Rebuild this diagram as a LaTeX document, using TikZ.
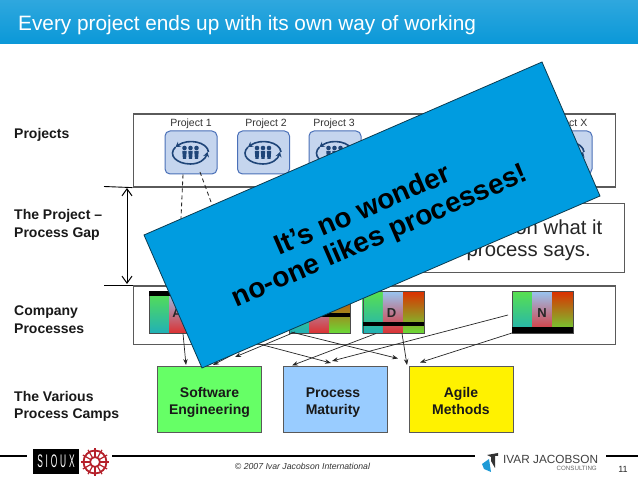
\documentclass[tikz,border=0pt]{standalone}
\usepackage{fontspec}
\setmainfont{Liberation Sans}
\usetikzlibrary{arrows.meta,calc}
\definecolor{ttl}{HTML}{0A98D8}
\definecolor{ban}{HTML}{009CE0}
\definecolor{banl}{HTML}{0B3B50}
\definecolor{frm}{HTML}{5A5A5A}
\definecolor{icf}{HTML}{C5D5EE}
\definecolor{icd}{HTML}{4A70B8}
\definecolor{icn}{HTML}{1F4578}
\definecolor{sxr}{HTML}{B5202A}
\definecolor{ijb}{HTML}{1E9AD6}
\definecolor{sgt}{HTML}{58E050}\definecolor{sgb}{HTML}{20B0B8}
\definecolor{sbt}{HTML}{98C4F0}\definecolor{sbb}{HTML}{DC3030}
\definecolor{srt}{HTML}{DC3000}\definecolor{srb}{HTML}{68DC38}
\definecolor{cgr}{RGB}{102,255,102}
\definecolor{cbl}{RGB}{153,204,255}
\tikzset{
 side/.style={font=\bfseries\fontsize{14}{17.5}\selectfont,anchor=west,align=left,text=black!90,inner sep=0},
 frame/.style={draw=frm,line width=1.1pt,fill=white},
 plabel/.style={font=\fontsize{10.5}{12}\selectfont,text=black!80,inner sep=0},
 proj/.style={draw=icd,line width=1pt,fill=icf,rounded corners=5pt,minimum width=52pt,minimum height=43pt,inner sep=0},
 camp/.style={draw=black!65,line width=.9pt,minimum width=104pt,minimum height=66pt,inner sep=0},
 camptxt/.style={align=center,inner sep=0,font=\bfseries\fontsize{14}{17}\selectfont,text=black!90},
 flow/.style={line width=.7pt,draw=black!85,-{Stealth[length=6pt,width=4.5pt]}},
 dashl/.style={line width=.85pt,draw=black!85,dash pattern=on 4pt off 3pt},
 rulel/.style={line width=.9pt,draw=black},
 gap/.style={line width=1pt,draw=black,{Straight Barb[length=7pt,width=10pt]}-{Straight Barb[length=7pt,width=10pt]}},
 boxl/.style={font=\bfseries\fontsize{13}{15}\selectfont,text=black!85,inner sep=0},
 gaptxt/.style={anchor=east,font=\fontsize{20.3}{24}\selectfont,text=black!85,inner sep=0},
 bantxt/.style={rotate=23.5,font=\bfseries\fontsize{28}{32}\selectfont,text=black,inner sep=0},
 ring/.style={icn,line width=1.6pt},
}
\newcommand{\stripes}[3]{%
 \path[top color=sgt,bottom color=sgb] (#1,#2) rectangle +(20.3,42);
 \path[top color=sbt,bottom color=sbb] (#1+20.3,#2) rectangle +(20.4,42);
 \path[top color=srt,bottom color=srb] (#1+40.7,#2) rectangle +(20.3,42);
 \node[draw=black!70,line width=.8pt,minimum width=61pt,minimum height=42pt,inner sep=0,anchor=north west] (#3) at (#1,#2) {};
}
\newcommand{\teamicon}[1]{%
 \begin{scope}[shift={(#1)}]
 \draw[ring,-{Stealth[length=5pt,width=6pt]}] (18,-1) .. controls (17,-11) and (-2,-15) .. (-15,-6);
 \draw[ring,-{Stealth[length=5pt,width=6pt]}] (-15,-6) .. controls (-23,2) and (-14,11) .. (0,11) .. controls (9,11) and (15,6) .. (17,-1);
 \foreach \dx in {-6,0,6}{
  \fill[icn] (\dx,-5) circle (2.3pt);
  \fill[icn] (\dx-2.2,-2) -- (\dx+2.2,-2) -- (\dx+1.6,6) -- (\dx-1.6,6) -- cycle;
 }
 \end{scope}
}
\begin{document}
\begin{tikzpicture}[x=1pt,y=-1pt]
\useasboundingbox (0,0) rectangle (638,478);
\fill[white] (0,0) rectangle (638,478);
% title
\path[top color=ttl!85!white,bottom color=ttl] (0,0) rectangle (638,44);
\node[anchor=west,text=white,font=\fontsize{20.8}{24}\selectfont,inner sep=0] (title) at (18,25.5) {Every project ends up with its own way of working};
% left labels
\node[side] (l1) at (14,135) {Projects};
\node[side] (l2) at (14,225) {The Project –\\Process Gap};
\node[side] (l3) at (14,319.5) {Company\\Processes};
\node[side] (l4) at (14,406.5) {The Various\\Process Camps};
% frames
\node[frame,minimum width=482.5pt,minimum height=73pt,inner sep=0,anchor=north west] (pf) at (132.5,113.5) {};
\node[frame,minimum width=482.5pt,minimum height=58.5pt,inner sep=0,anchor=north west] (cf) at (132.5,285.5) {};
% gap box
\node[draw=frm,line width=1.1pt,fill=white,minimum width=365pt,minimum height=69pt,inner sep=0,anchor=north east] (gb) at (625,203) {};
\node[gaptxt] (g1) at (602.5,227) {on what it};
\node[gaptxt] (g2) at (591,253) {process says.};
% gap rules
\coordinate (r1a) at (104,186.5); \coordinate (r2a) at (104,285.5);
\draw[rulel] (r1a) -- (pf.south west);
\draw[rulel] (r2a) -- (cf.north west);
\coordinate (ga) at (127,188); \coordinate (gz) at (127,284);
\draw[gap] (ga) -- (gz);
% projects
\node[plabel] (t1) at (191,124) {Project 1};
\node[plabel] (t2) at (266,124) {Project 2};
\node[plabel] (t3) at (334,124) {Project 3};
\node[plabel] (tx) at (566,124) {Project X};
\node[proj] (p1) at (191,152.5) {};
\node[proj] (p2) at (263.5,152.5) {};
\node[proj] (p3) at (335,152.5) {};
\node[proj] (px) at (566,152.5) {};
\teamicon{190.5,153}\teamicon{263,153}\teamicon{334.5,153}\teamicon{566,153}
% processes
\stripes{149}{291.5}{A}
\stripes{289}{291.5}{C}
\stripes{362.5}{291.5}{D}
\stripes{512}{291.5}{N}
\fill[black] (149,291) rectangle (210,296);
\fill[black] (289,313) rectangle (350,317.5);
\fill[black] (362.5,322) rectangle (423.5,326);
\fill[black] (512,327.5) rectangle (573,333.5);
\node[boxl] (la) at (177,313) {A};
\node[boxl] (ld) at (391.5,313) {D};
\node[boxl] (ln) at (542,313) {N};
% camps
\node[camp,fill=cgr] (se) at (209.5,399) {};
\node[camp,fill=cbl] (pm) at (335,399) {};
\node[camp,fill=yellow] (am) at (461,399) {};
\node[camptxt] (set) at (209.5,403) {\strut Software\\\strut Engineering};
\node[camptxt] (pmt) at (333,403) {\strut Process\\\strut Maturity};
\node[camptxt] (amt) at (461,403) {\strut Agile\\\strut Methods};
% connectors
\coordinate (as) at (183,333.5); \coordinate (ae) at (186,365);
\draw[flow] (as) -- (ae);
\coordinate (cs1) at (295,332); \coordinate (ce1) at (235,357);
\draw[flow] (cs1) -- (ce1);
\coordinate (cs2) at (291,332); \coordinate (ce2) at (398,358.5);
\draw[flow] (cs2) -- (ce2);
\coordinate (ds1) at (376,333.5); \coordinate (de1) at (292,365.5);
\draw[flow] (ds1) -- (de1);
\coordinate (as2) at (210,331); \coordinate (ae2) at (331,363);
\draw[flow] (as2) -- (ae2);
\coordinate (x1) at (270,335); \coordinate (x2) at (213,365);
\draw[flow] (x1) -- (x2);
\coordinate (ns1) at (508,315); \coordinate (ne1) at (332,361);
\draw[flow] (ns1) -- (ne1);
\coordinate (ns2) at (512,333); \coordinate (ne2) at (420,362.5);
\draw[flow] (ns2) -- (ne2);
\coordinate (ds2) at (402,333.5); \coordinate (de2) at (407,365);
\draw[flow] (ds2) -- (de2);
\coordinate (d1z) at (180,240); \coordinate (d2z) at (225,240);
\coordinate (d1a) at (183,174.5); \coordinate (d2a) at (200,172);
\draw[dashl] (d1a) -- (d1z);
\draw[dashl] (d2a) -- (d2z);
% banner
\coordinate (b1) at (144,235); \coordinate (b2) at (542,62); \coordinate (b3) at (600,196); \coordinate (b4) at (202,368);
\draw[fill=ban,draw=banl,line width=.8pt] (b1) -- (b2) -- (b3) -- (b4) -- cycle;
\node[bantxt] (bt1) at (362,209) {It’s no wonder};
\node[bantxt] (bt2) at (380,237) {no-one likes processes!};
% footer
\draw[line width=1.1pt] (0,456) -- (27,456);
\draw[line width=1.1pt] (112,456) -- (475,456);
\draw[line width=1.1pt] (606,456) -- (638,456);
\node[fill=white,font=\itshape\fontsize{8.7}{11}\selectfont,text=black!80,inner sep=2pt] (cr) at (302.5,466) {© 2007 Ivar Jacobson International};
\node[fill=black,text=white,font=\fontsize{14}{14}\selectfont,minimum width=46pt,minimum height=25pt,inner sep=0] (sx) at (56,461.5) {\scalebox{.6}[1.3]{S\,\,I\,\,O\,\,U\,\,X}};
\draw[sxr,line width=1.8pt] (95,462) circle (5pt);
\draw[sxr,line width=1.8pt] (95,462) circle (11.5pt);
\foreach \a in {0,30,...,330}{\draw[sxr,line width=1.2pt] (95,462) ++(\a:5pt) -- ++(\a:9pt);}
\fill[ijb] (482,464) -- (489,459) -- (491,472) -- (484,469) -- cycle;
\fill[black!80] (487,455) -- (498,453) -- (498,456) -- (495,456) -- (495,468) -- (491,461) -- (491,457) -- cycle;
\node[font=\fontsize{11.8}{15}\selectfont,text=black!75,anchor=west,inner sep=0] (ij) at (503,459.5) {IVAR JACOBSON};
\node[font=\fontsize{6.2}{7}\selectfont,text=black!60,anchor=east,inner sep=0] (ic) at (597,468.5) {CONSULTING};
\node[font=\fontsize{9}{11}\selectfont,text=black!85,inner sep=0] (pg) at (623,469) {11};
\end{tikzpicture}
\end{document}
